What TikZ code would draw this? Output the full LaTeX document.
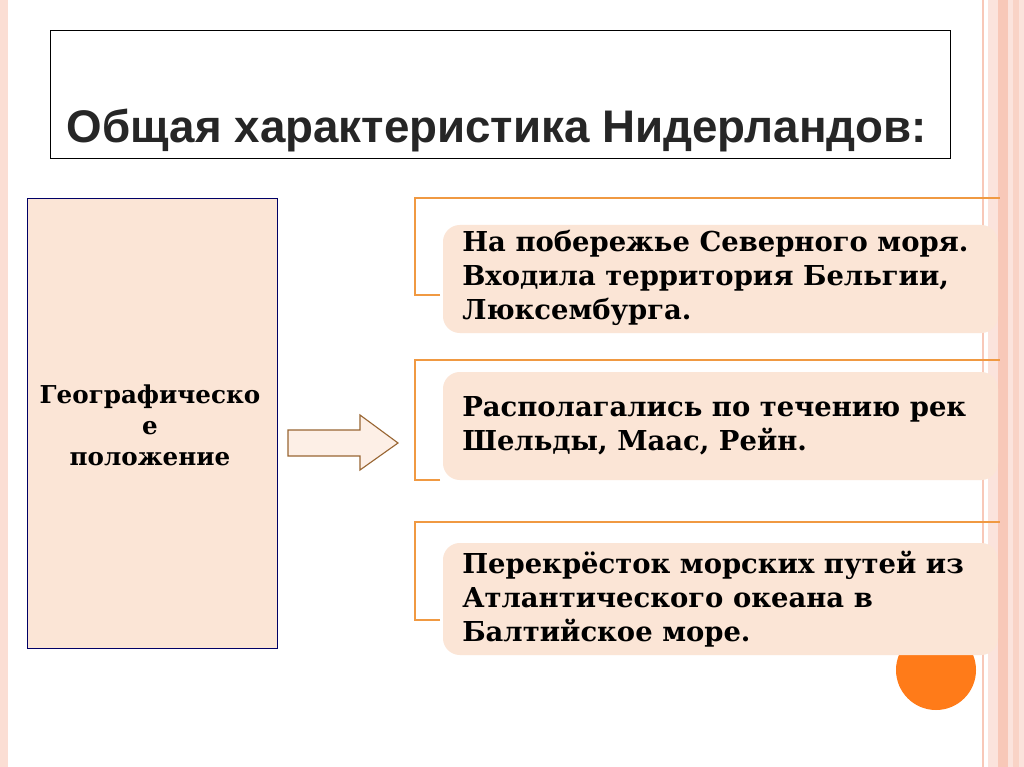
\documentclass[tikz,border=0pt]{standalone}
\usepackage{fontspec}
\setmainfont{DejaVu Serif}
\newfontfamily\titlefont{Liberation Sans}
\begin{document}
\begin{tikzpicture}[x=0.025cm,y=-0.025cm,
  bracket/.style={draw=orange!70!brown!80, line width=1.2pt},
  infobox/.style={fill=peach, rounded corners=12pt, draw=none},
  infotext/.style={font=\fontsize{19.5}{24}\selectfont\bfseries, align=left, anchor=west, inner sep=0pt}]
\definecolor{peach}{HTML}{FBE5D6}
\definecolor{stripe}{HTML}{F8C8B8}
\useasboundingbox (0,0) rectangle (1024,767);
\fill[white] (0,0) rectangle (1024,767);
% decorative stripes
\fill[stripe!60] (0,0) rectangle (8,767);
\fill[stripe!50] (988,0) rectangle (1024,767);
\fill[stripe] (998,0) rectangle (1008,767);
\fill[stripe!80] (1013,0) rectangle (1019,767);
\draw[stripe, line width=1pt] (983,0) -- (983,767);
% title
\node[draw=black, line width=0.8pt, minimum width=900*0.025cm, minimum height=128*0.025cm, anchor=north west] (title) at (50,30) {};
\node[font=\titlefont\fontsize{32.5}{36}\selectfont\bfseries, color=black!85] (titletext) at (497,130) {Общая характеристика Нидерландов:};
% left box
\node[draw=black!60!blue, fill=peach, line width=1pt, minimum width=250*0.025cm, minimum height=450*0.025cm, anchor=north west] (geo) at (27,198) {};
\node[font=\fontsize{17.5}{22}\selectfont\bfseries, align=center] (geotext) at (150,425) {Географическо\\е\\положение};
% arrow
\draw[draw=brown!80!black, fill=peach!60, line width=0.8pt] (288,430) -- (360,430) -- (360,415) -- (398,443) -- (360,470) -- (360,456) -- (288,456) -- cycle;
% orange circle
\fill[orange!85!red!90] (936,670) circle (40);
% brackets
\draw[bracket] (440,295) -- (415,295) -- (415,198) -- (1000,198);
\draw[bracket] (440,480) -- (415,480) -- (415,360) -- (1000,360);
\draw[bracket] (440,620) -- (415,620) -- (415,522) -- (1000,522);
% boxes
\fill[infobox] (443,225) rectangle (998,333);
\fill[infobox] (443,372) rectangle (998,480);
\fill[infobox] (443,543) rectangle (998,655);
\node[infotext] (t1) at (462,278) {На побережье Северного моря.\\Входила территория Бельгии,\\Люксембурга.};
\node[infotext] (t2) at (462,426) {Располагались по течению рек\\Шельды, Маас, Рейн.};
\node[infotext] (t3) at (462,599) {Перекрёсток морских путей из\\Атлантического океана в\\Балтийское море.};
\end{tikzpicture}
\end{document}
